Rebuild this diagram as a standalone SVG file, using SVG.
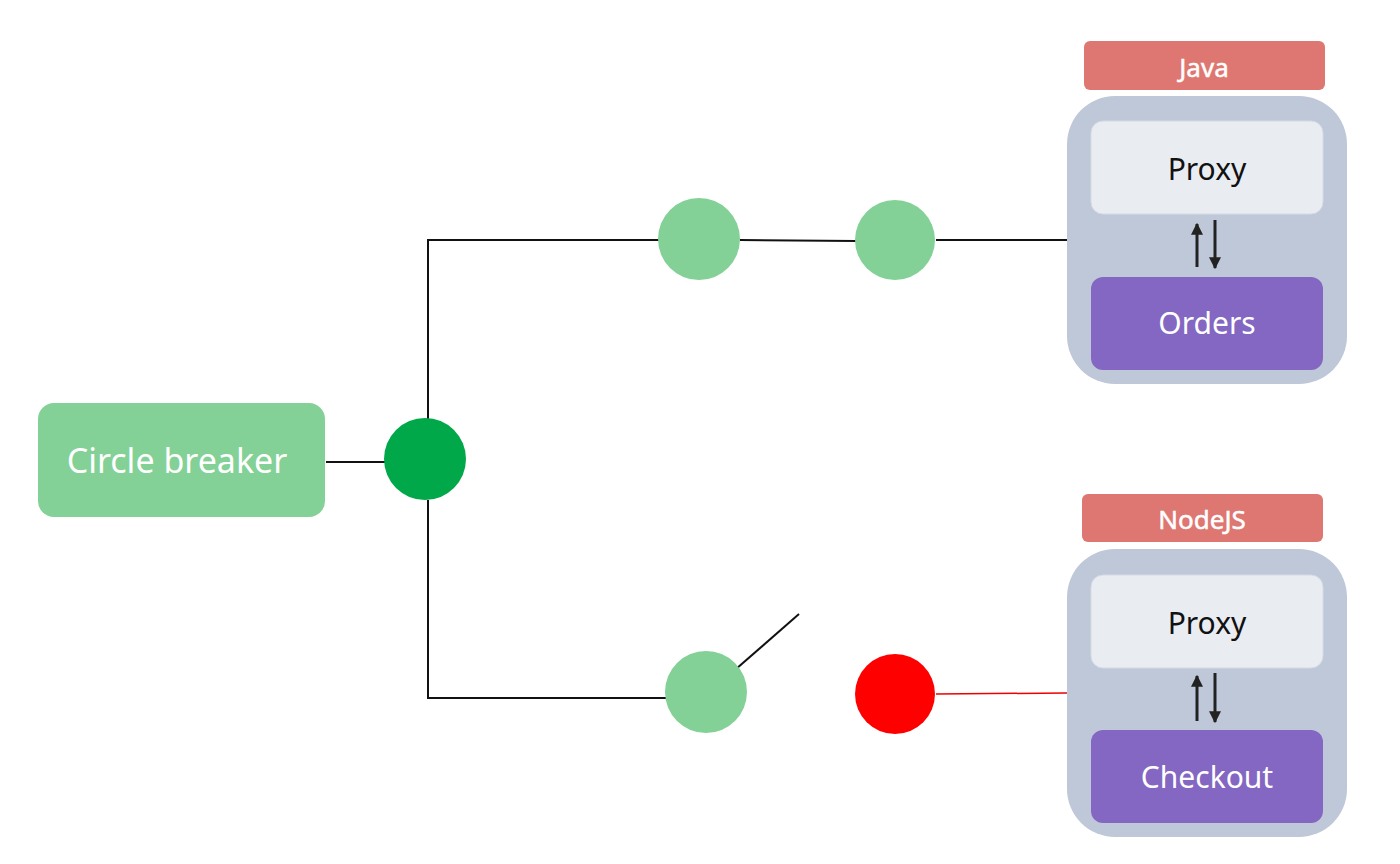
<svg xmlns="http://www.w3.org/2000/svg" width="1400" height="864" viewBox="0 0 1400 864">
<style>
.t{font-family:"Noto Sans","Liberation Sans",sans-serif;text-anchor:middle;dominant-baseline:central}
.lab{fill:#de7771}
.outer{fill:#bfc8d8}
.proxy{fill:#e9ecf1;stroke:#d5dbe4}
.svc{fill:#8367c2}
.ln{stroke:#111;stroke-width:2;fill:none}
.g{fill:#83d196}
.ar{stroke:#222;stroke-width:3}
</style>
<defs>
<marker id="ah" viewBox="0 0 10 10" refX="9" refY="5" markerWidth="4" markerHeight="4" orient="auto"><path d="M0,0L10,5L0,10z" fill="#222"/></marker>
</defs>
<rect width="1400" height="864" fill="#fff"/>
<g id="breaker"><rect x="38" y="403" width="287" height="114" rx="16" class="g"/><text x="177" y="460" class="t" font-size="34" fill="#fff">Circle breaker</text></g>
<g id="java">
<rect x="1084" y="41" width="241" height="49" rx="6" class="lab"/><text x="1204" y="67" class="t" font-size="26" fill="#fff" stroke="#fff" stroke-width="0.5">Java</text>
<rect x="1067" y="96" width="280" height="288" rx="48" class="outer"/>
<rect x="1091" y="121" width="232" height="93" rx="12" class="proxy"/><text x="1207" y="168" class="t" font-size="30" fill="#111">Proxy</text>
<rect x="1091" y="277" width="232" height="93" rx="12" class="svc"/><text x="1207" y="322" class="t" font-size="30" fill="#fff">Orders</text>
</g>
<g id="node">
<rect x="1082" y="494" width="241" height="48" rx="6" class="lab"/><text x="1202" y="519" class="t" font-size="26" fill="#fff" stroke="#fff" stroke-width="0.5">NodeJS</text>
<rect x="1067" y="549" width="280" height="288" rx="48" class="outer"/>
<rect x="1091" y="575" width="232" height="93" rx="12" class="proxy"/><text x="1207" y="622" class="t" font-size="30" fill="#111">Proxy</text>
<rect x="1091" y="730" width="232" height="93" rx="12" class="svc"/><text x="1207" y="776" class="t" font-size="30" fill="#fff">Checkout</text>
</g>
<g id="connectors">
<line class="ln" x1="326" y1="462" x2="386" y2="462"/>
<polyline class="ln" points="428,420 428,240 660,240"/>
<line class="ln" x1="740" y1="240" x2="856" y2="241"/>
<line class="ln" x1="936" y1="240" x2="1067" y2="240"/>
<polyline class="ln" points="428,500 428,698 666,698"/>
<line class="ln" x1="736" y1="669" x2="799" y2="614"/>
<line x1="936" y1="694" x2="1067" y2="693" stroke="#e00" stroke-width="1.5"/>
<line x1="1197" y1="267" x2="1197" y2="224" class="ar" marker-end="url(#ah)"/>
<line x1="1215" y1="220" x2="1215" y2="268" class="ar" marker-end="url(#ah)"/>
<line x1="1197" y1="721" x2="1197" y2="676" class="ar" marker-end="url(#ah)"/>
<line x1="1215" y1="673" x2="1215" y2="722" class="ar" marker-end="url(#ah)"/>
</g>
<g id="hub"><circle cx="425" cy="459" r="41" fill="#00a84a"/></g>
<g id="s1"><circle cx="699" cy="239" r="41" class="g"/></g>
<g id="s2"><circle cx="895" cy="240" r="40" class="g"/></g>
<g id="s3"><circle cx="706" cy="692" r="41" class="g"/></g>
<g id="s4"><circle cx="895" cy="694" r="40" fill="#f00"/></g>
</svg>
